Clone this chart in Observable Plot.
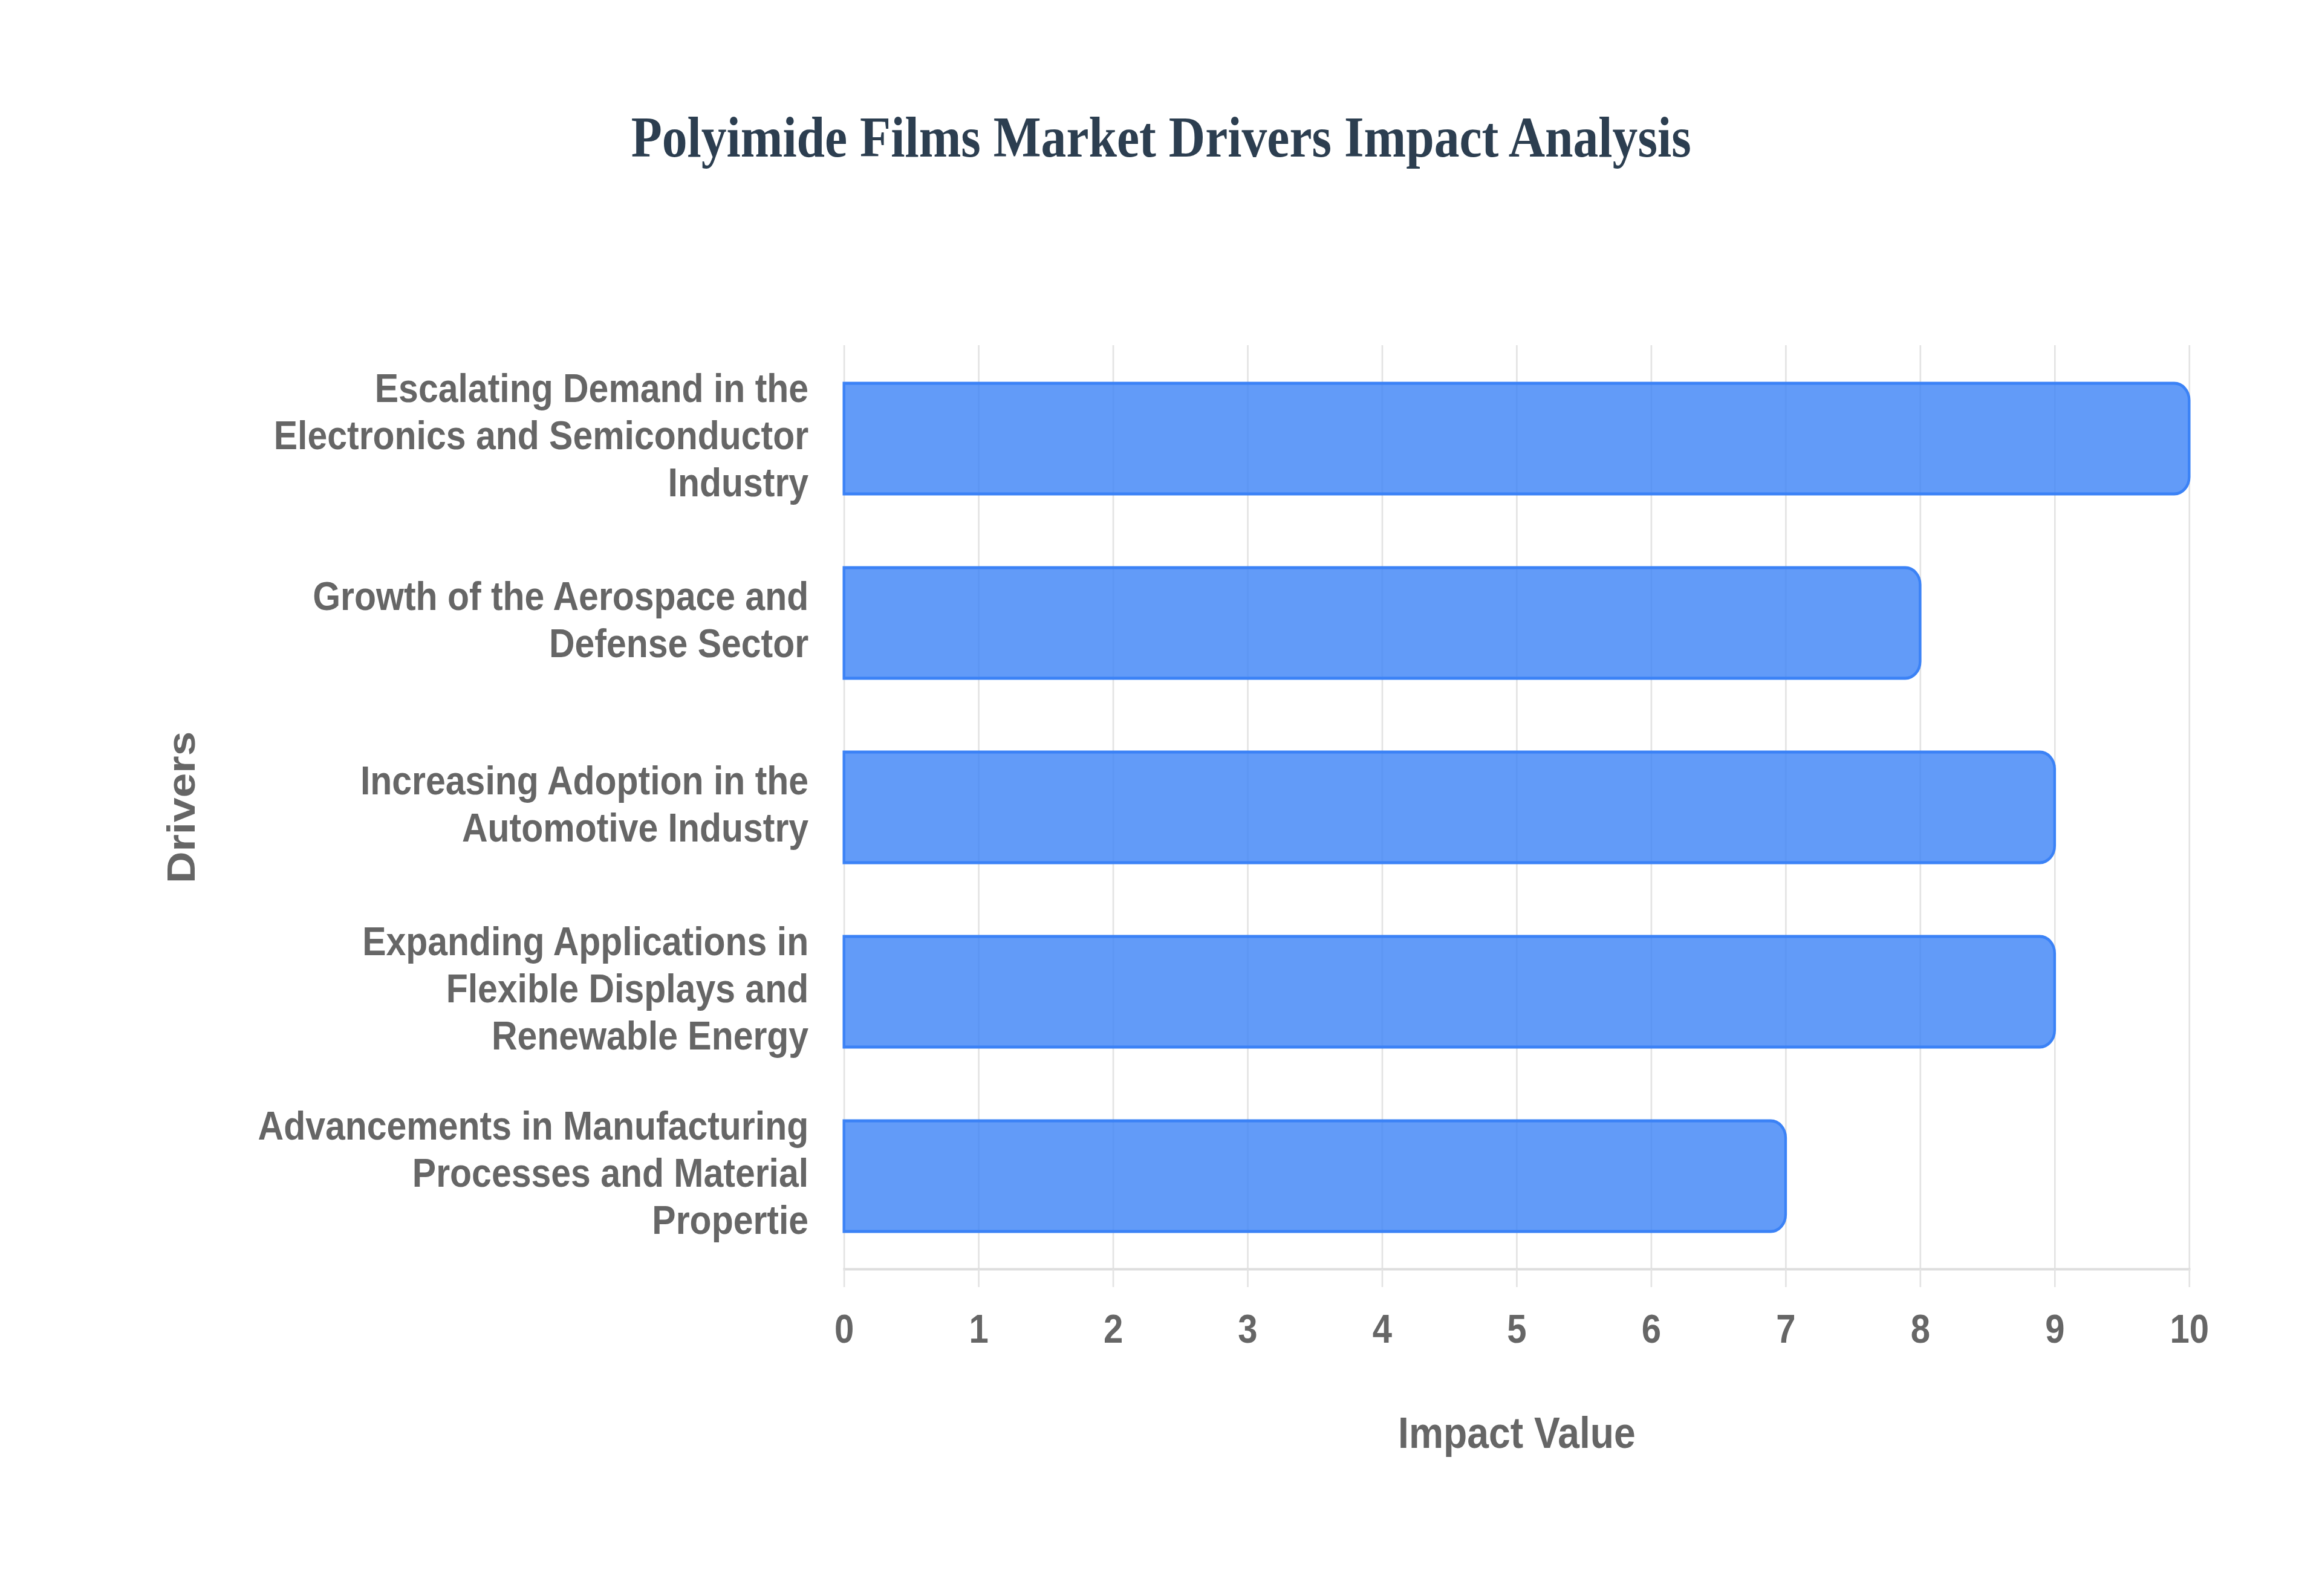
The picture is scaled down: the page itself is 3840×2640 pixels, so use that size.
<!DOCTYPE html>
<html><head><meta charset="utf-8">
<script src="https://cdn.jsdelivr.net/npm/d3@7"></script>
<script src="https://cdn.jsdelivr.net/npm/@observablehq/plot@0.6"></script>
<style>
html,body{margin:0;padding:0;background:#fff;overflow:hidden;}
#wrap{width:4364px;transform:scaleX(0.88);transform-origin:0 0;}
#title{height:400px;box-sizing:border-box;padding-top:180px;text-align:center;font-family:"Liberation Serif",serif;font-weight:bold;font-size:95px;line-height:95px;color:#2c3e50;}
</style></head><body>
<div id="wrap"><div id="title">Polyimide Films Market Drivers Impact Analysis</div><div id="chart"></div></div>
<script>
const drivers = [
  "Escalating Demand in the Electronics and Semiconductor Industry",
  "Growth of the Aerospace and Defense Sector",
  "Increasing Adoption in the Automotive Industry",
  "Expanding Applications in Flexible Displays and Renewable Energy",
  "Advancements in Manufacturing Processes and Material Propertie"
];
const driverLabels = [
  "Escalating Demand in the\nElectronics and Semiconductor\nIndustry",
  "Growth of the Aerospace and\nDefense Sector",
  "Increasing Adoption in the\nAutomotive Industry",
  "Expanding Applications in\nFlexible Displays and\nRenewable Energy",
  "Advancements in Manufacturing\nProcesses and Material\nPropertie"
];
const impacts = [10, 8, 9, 9, 7];
const xTicks = [0, 1, 2, 3, 4, 5, 6, 7, 8, 9, 10];
const xLabel = "Impact Value";
const yLabel = "Drivers";

const data = drivers.map((d, i) => ({driver: d, impact: impacts[i]}));
const labelOf = new Map(drivers.map((d, i) => [d, driverLabels[i]]));

const chart = Plot.plot({
  width: 4364, height: 2240,
  marginTop: 171, marginBottom: 541, marginLeft: 1586, marginRight: 250,
  style: {fontFamily: "'Liberation Sans', Arial, sans-serif", fontWeight: "bold", fontSize: "66px", background: "#fff", overflow: "visible"},
  x: {domain: [0, 10], ticks: xTicks, label: null},
  y: {domain: drivers, paddingInner: 0.4, paddingOuter: 0.2, label: null},
  marks: [
    Plot.gridX(xTicks, {stroke: "#e3e3e3", strokeOpacity: 1, strokeWidth: 3}),
    Plot.frame({anchor: "bottom", stroke: "#dedede", strokeWidth: 4}),
    Plot.barX(data, {x: "impact", y: "driver", fill: "#3b82f6", fillOpacity: 0.8, stroke: "#3b82f6", strokeWidth: 5, rx2: 28}),
    Plot.axisX(xTicks, {tickSize: 30, tickPadding: 45, tickFormat: d => String(d), stroke: "#e3e3e3", strokeWidth: 3, fill: "#666", fontSize: 66, label: null}),
    Plot.axisY({tickSize: 0, tickPadding: 67, dy: -8, tickFormat: d => labelOf.get(d), lineHeight: 1.17, fill: "#666", fontSize: 67, label: null}),
    Plot.text([xLabel], {frameAnchor: "bottom", dy: 272, fontSize: 73, fill: "#666", lineAnchor: "middle"}),
    Plot.text([yLabel], {frameAnchor: "left", dx: -1244, rotate: -90, textAnchor: "middle", lineAnchor: "middle", fontSize: 73, fill: "#666"})
  ]
});
document.getElementById("chart").appendChild(chart);
</script>
</body></html>
